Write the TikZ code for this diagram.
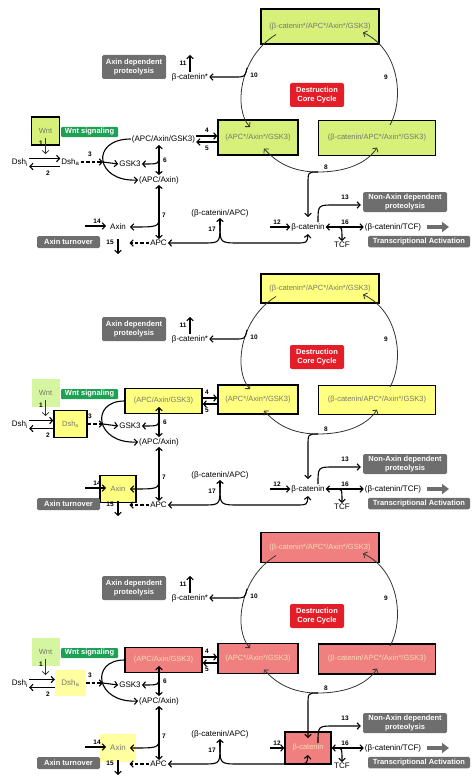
\documentclass[tikz,border=0pt]{standalone}
\usepackage{fontspec}
\setmainfont{Liberation Sans}
\usetikzlibrary{arrows.meta}
\definecolor{cxlime}{RGB}{214,240,122}
\definecolor{cxyel}{RGB}{255,255,128}
\definecolor{cxred}{RGB}{240,128,128}
\definecolor{paleyel}{RGB}{255,255,160}
\definecolor{palelime}{RGB}{214,245,160}
\definecolor{wntgreen}{RGB}{30,160,85}
\definecolor{tagray}{RGB}{110,110,110}
\definecolor{cyclered}{RGB}{228,30,40}
\definecolor{boxtxt}{RGB}{120,120,110}
\definecolor{redtxt}{RGB}{245,220,180}
\tikzset{
  lbl/.style={font=\fontsize{8}{9}\selectfont, inner sep=1pt},
  num/.style={font=\fontsize{6.5}{7}\selectfont\bfseries, inner sep=0pt},
  cxbox/.style={draw, line width=1.3pt, text=boxtxt, font=\fontsize{7.5}{9}\selectfont, inner sep=1pt},
  wntbox/.style={minimum width=28pt, minimum height=28pt, text=boxtxt,
    font=\fontsize{7.5}{9}\selectfont, inner sep=0pt},
  tag/.style={fill=tagray, text=white, rounded corners=1.5pt, align=center,
    font=\fontsize{7.5}{8.5}\selectfont\bfseries, inner sep=1pt},
  wnttag/.style={fill=wntgreen, text=white, rounded corners=1pt, inner sep=1pt,
    font=\fontsize{7.5}{8}\selectfont\bfseries, minimum width=57pt, minimum height=10pt},
  cycletag/.style={fill=cyclered, text=white, rounded corners=2pt, align=center,
    font=\fontsize{7.5}{8.5}\selectfont\bfseries, minimum width=54pt, minimum height=24pt},
  arr/.style={-{Straight Barb[length=3pt,width=6.5pt]}, line width=1.1pt},
  darr/.style={{Straight Barb[length=3pt,width=6.5pt]}-{Straight Barb[length=3pt,width=6.5pt]}, line width=1.1pt},
  thinarr/.style={arr, line width=0.8pt, black!80},
  dasharr/.style={arr, dash pattern=on 3.5pt off 2pt},
  bigarr/.style={-{Triangle[length=7pt,width=10pt]}, line width=4.5pt, tagray}
}

% one copy of the pathway; looks of the changing species come from the scope
\newcommand{\pathwaypanel}[1]{%
  % destruction core cycle
  \node[cplx, minimum width=118pt] (top#1) at (320,26.5) {(β-catenin*/APC*/Axin*/GSK3)};
  \node[cplx, minimum width=80pt] (apcs#1) at (258,137.5) {(APC*/Axin*/GSK3)};
  \node[cplx, minimum width=117pt] (bapcs#1) at (377,138) {(β-catenin/APC*/Axin*/GSK3)};
  \node[cycletag] (core#1) at (317,95) {Destruction\\Core Cycle};
  \node[tag, minimum width=64pt, minimum height=24pt] (axdep#1) at (134,67) {Axin dependent\\proteolysis};
  \node[lbl] (bcats#1) at (190,77) {β-catenin*};
  % Wnt side
  \node[wntst] (wnt#1) at (45.5,131) {Wnt};
  \node[wnttag] (wntsig#1) at (89.5,132) {Wnt signaling};
  \node[lbl] (dshi#1) at (20,162.5) {Dsh\textsubscript{i}};
  \node[dshast] (dsha#1) at (70.5,162) {Dsh\textsubscript{a}};
  \node[agskst] (agsk#1) at (163.5,139) {(APC/Axin/GSK3)};
  \node[lbl] (gsk#1) at (130,164) {GSK3};
  \node[lbl] (apcax#1) at (159,180) {(APC/Axin)};
  \node[axinst] (axin#1) at (118,227) {Axin};
  \node[lbl] (apc#1) at (158.5,243) {APC};
  \node[tag, minimum width=63pt, minimum height=12pt] (axturn#1) at (68.5,242) {Axin turnover};
  \node[lbl] (bcapc#1) at (220,213) {(β-catenin/APC)};
  % beta-catenin side
  \node[bcatst] (bcat#1) at (308,227) {β-catenin};
  \node[lbl] (tcf#1) at (342,245) {TCF};
  \node[lbl] (bctcf#1) at (393,227) {(β-catenin/TCF)};
  \node[tag, minimum width=84pt, minimum height=20pt] (nonax#1) at (405,202) {Non-Axin dependent\\proteolysis};
  \node[tag, minimum width=102pt, minimum height=11.5pt] (trans#1) at (419,241.5) {Transcriptional Activation};
  % free ends and branch points
  \coordinate (r1#1) at (45.5,154);
  \coordinate (j3#1) at (103,162);
  \coordinate (j6#1) at (159,156);
  \coordinate (j7#1) at (159,216);
  \coordinate (j8#1) at (318,172);
  \coordinate (j10#1) at (247,68);
  \coordinate (c11#1) at (190,55);
  \coordinate (c12#1) at (270,227);
  \coordinate (c14#1) at (85,226);
  \coordinate (c15#1) at (118,254);
  \coordinate (j16#1) at (336,227);
  \coordinate (j17#1) at (220,225);
  \coordinate (g1#1) at (427,227);
  \coordinate (g2#1) at (449,227);
  % cycle arcs
  \draw[thinarr] ([shift={(-44,8)}]top#1.center) .. controls (238,58) and (234,110) .. ([shift={(-8,-10.5)}]apcs#1.center);
  \draw[thinarr] ([shift={(13,-13)}]bapcs#1.center) .. controls (404,100) and (400,50) .. ([shift={(43,6)}]top#1.center);
  \draw[arr] (j10#1) .. controls (245,77) .. (235,77) -- (bcats#1.east);
  \draw[arr] (bcats#1.north) -- (c11#1);
  % Wnt / Dsh
  \draw[thinarr] ([shift={(0,7)}]wnt#1.center) -- (r1#1);
  \draw[arr] ([shift={(0,-4)}]dshi#1.east) -- ([shift={(0,-3.5)}]dsha#1.west);
  \draw[arr] ([shift={(0,4.5)}]dsha#1.west) -- ([shift={(0,4)}]dshi#1.east);
  \draw[dasharr] (dsha#1.east) -- (j3#1);
  \draw[arr] (agsk#1.west) .. controls (90,139) and (95,182) .. (apcax#1.west);
  \draw[arr] (j3#1) -- (gsk#1.west);
  \draw[arr] ([shift={(0,-3)}]agsk#1.east) -- ([shift={(0,-1.5)}]apcs#1.west);
  \draw[arr] ([shift={(0,4.5)}]apcs#1.west) -- ([shift={(0,3)}]agsk#1.east);
  \draw[darr] ([shift={(-4.5,6)}]agsk#1.center) -- (apcax#1.north);
  \draw[arr] (j6#1) .. controls (159,164) .. (gsk#1.east);
  \draw[darr] (apcax#1.south) -- (apcax#1.south |- apc#1.north);
  \draw[arr] (j7#1) .. controls (159,227) .. ([shift={(12,0)}]axin#1.center);
  \draw[arr] (c14#1) -- ([shift={(-12,-1)}]axin#1.center);
  \draw[arr] ([shift={(0,12)}]axin#1.center) -- (c15#1);
  \draw[dasharr] (apc#1.west) -- ([shift={(-29,0)}]apc#1.center);
  % APC / beta-catenin
  \draw[arr] (j17#1) .. controls (220,243) .. (202,243) -- (apc#1.east);
  \draw[arr] (j17#1) .. controls (220,243) .. (240,243) -- (296,243) .. controls (307,243) .. ([shift={(0,7)}]bcat#1.center);
  \draw[arr] (j17#1) -- (bcapc#1.south);
  \draw[arr] (c12#1) -- (bcat#1.west);
  \draw[thinarr] (j8#1) .. controls (292,172) and (276,162) .. ([shift={(6,11)}]apcs#1.center);
  \draw[thinarr] (j8#1) .. controls (348,172) and (368,162) .. ([shift={(0,9.5)}]bapcs#1.center);
  \draw[arr] (j8#1) .. controls (308,172) .. (308,184) -- ([shift={(0,-10)}]bcat#1.center);
  \draw[arr] ([shift={(10,-5)}]bcat#1.center) .. controls (318,205) .. (334,205) -- ([shift={(-2,3)}]nonax#1.west);
  \draw[darr] (bcat#1.east) -- (bctcf#1.west);
  \draw[arr] (j16#1) .. controls (342,227) .. (tcf#1.north);
  \draw[bigarr] (g1#1) -- (g2#1);
  % reaction numbers
  \foreach \n/\x/\y in {1/41/143, 2/48/173, 3/90/154, 4/207/130, 5/207/148, 6/165/160,
      7/164/215, 8/326/167, 9/386/77, 10/254/75, 11/183/63, 12/277/222, 13/345/197,
      14/97/221, 15/110/242, 16/345/222, 17/212/229}
    \node[num] (n\n#1) at (\x,\y) {\n};
}

\begin{document}
\begin{tikzpicture}[x=1pt, y=-1pt]
  \useasboundingbox (0,0) rectangle (474,781);
  % top panel
  \begin{scope}[cplx/.style={cxbox, fill=cxlime, minimum height=35pt},
      agskst/.style={lbl}, wntst/.style={wntbox, draw, line width=1.2pt, fill=cxlime},
      dshast/.style={lbl}, axinst/.style={lbl}, bcatst/.style={lbl}]
    \pathwaypanel{a}
  \end{scope}
  % middle panel
  \begin{scope}[shift={(0,262)}, cplx/.style={cxbox, fill=cxyel, minimum height=29pt},
      agskst/.style={cxbox, fill=cxyel, minimum width=77pt, minimum height=25pt},
      wntst/.style={wntbox, fill=palelime},
      dshast/.style={cxbox, fill=cxyel, minimum width=33pt, minimum height=27pt},
      axinst/.style={cxbox, fill=cxyel, minimum width=36pt, minimum height=27pt},
      bcatst/.style={lbl}]
    \pathwaypanel{b}
  \end{scope}
  % bottom panel
  \begin{scope}[shift={(0,521)}, cplx/.style={cxbox, fill=cxred, text=redtxt, minimum height=30pt},
      agskst/.style={cxbox, fill=cxred, text=redtxt, minimum width=77pt, minimum height=25pt},
      wntst/.style={wntbox, fill=palelime},
      dshast/.style={lbl, fill=paleyel, text=boxtxt, minimum width=31pt, minimum height=26pt},
      axinst/.style={lbl, fill=paleyel, text=boxtxt, minimum width=36pt, minimum height=28pt},
      bcatst/.style={cxbox, fill=cxred, text=redtxt, minimum width=46pt, minimum height=32pt}]
    \pathwaypanel{c}
  \end{scope}
\end{tikzpicture}
\end{document}
